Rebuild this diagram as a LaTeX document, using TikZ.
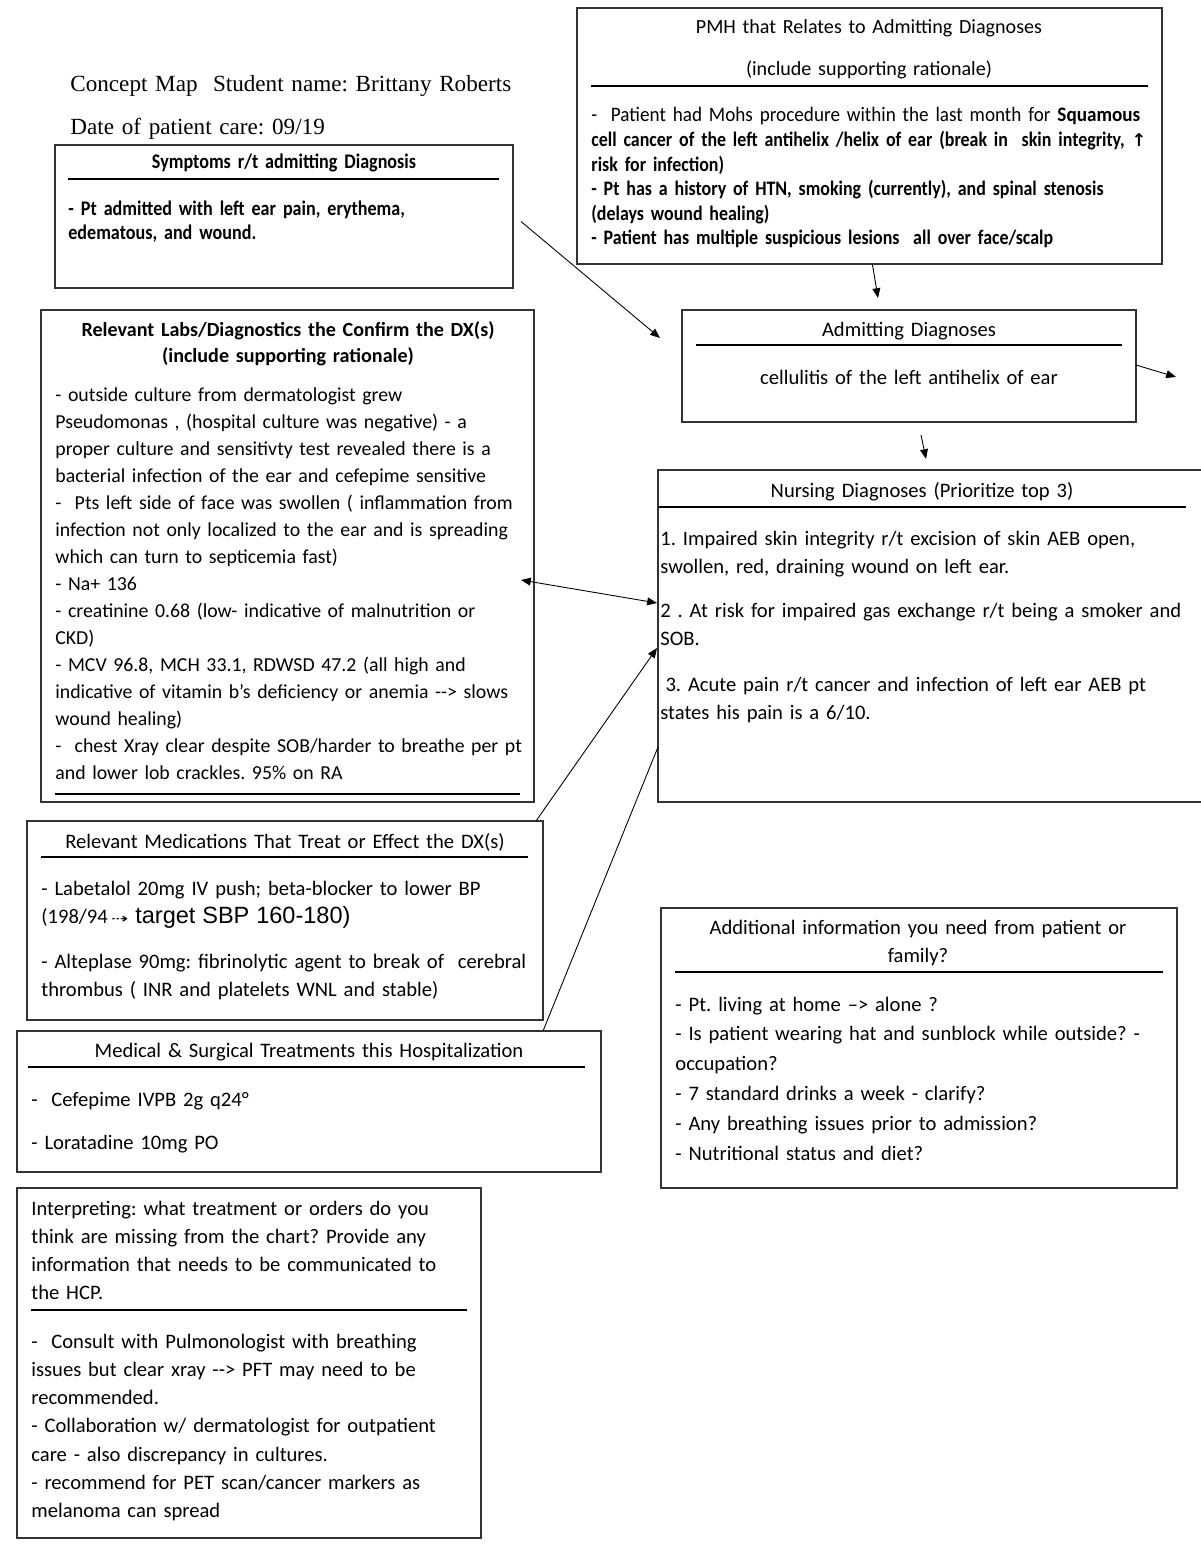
\documentclass[tikz,border=0pt]{standalone}
\usepackage{fontspec}
\setmainfont{Carlito}
\newfontfamily\cndfont{Carlito}[FakeStretch=0.87]
\newfontfamily\midfont{Carlito}[FakeStretch=0.93]
\newfontfamily\serfont{Liberation Serif}
\newfontfamily\arifont{Liberation Sans}
\newfontfamily\symfont{DejaVu Sans}
\usetikzlibrary{arrows.meta}
\pgfmathsetmacro{\px}{0.51}
\tikzset{
  box/.style={draw=black!80, line width=0.6pt, anchor=north west, inner sep=0pt, outer sep=0pt},
  bsize/.style 2 args={minimum width=#1*\px*1pt, minimum height=#2*\px*1pt},
  hrule/.style={line width=1.1pt},
  ttl/.style={anchor=base, inner sep=0pt, align=center, text width=560*\px*1pt},
  txt/.style={anchor=base west, inner sep=0pt, align=left, text width=560*\px*1pt},
  arr/.style={-{Triangle[length=5pt,width=4pt]}, line width=0.45pt},
}
\frenchspacing

\begin{document}
\begin{tikzpicture}[x=\px pt, y=-\px pt]
		\useasboundingbox[fill=white] (0,0) rectangle (1200,1553);
		% header
		\node[txt, font=\serfont\fontsize{11.8}{14}\selectfont] (cmap) at (70,92) {Concept Map\ \ Student name: Brittany Roberts};
		\node[txt, font=\serfont\fontsize{11.8}{14}\selectfont] (date) at (70,135) {Date of patient care: 09/19};
		% boxes
		\node[box, bsize={585}{256}] (pmh) at (577,8) {};
		\node[box, bsize={458}{143}] (sym) at (55,145) {};
		\node[box, bsize={493}{492}] (labs) at (41,310) {};
		\node[box, bsize={454}{112}] (adm) at (682,310) {};
		\node[box, bsize={560}{332}] (nur) at (658,470) {};
		\node[box, bsize={516}{199}] (meds) at (27,821) {};
		\node[box, bsize={584}{141}] (trt) at (17,1031) {};
		\node[box, bsize={516}{280}] (info) at (661,908) {};
		\node[box, bsize={464}{350}] (interp) at (17,1188) {};
		% rules under the titles
		\draw[hrule] (591,86) -- (1148,86);
		\draw[hrule] (68,179) -- (499,179);
		\draw[hrule] (55,794) -- (520,794);
		\draw[hrule] (696,345) -- (1122,345);
		\draw[hrule] (658,507) -- (1186,507);
		\draw[hrule] (41,857) -- (528,857);
		\draw[hrule] (28,1067) -- (585,1067);
		\draw[hrule] (675,972) -- (1163,972);
		\draw[hrule] (31,1310) -- (467,1310);
		% PMH
		\node[ttl, font=\fontsize{10.25}{13}\selectfont] (pmhttl) at (869,34) {PMH that Relates to Admitting Diagnoses};
		\node[ttl, font=\fontsize{10.25}{13}\selectfont] (pmhsub) at (869,76) {(include supporting rationale)};
		\node[txt, font=\cndfont\fontsize{10.5}{12.5}\selectfont] (pmhtxt) at (591,122) {{\midfont -\ \ Patient had Mohs procedure within the last month for \textbf{Squamous}}\\
			\textbf{cell cancer of the left antihelix /helix of ear (break in\ \ skin integrity, {\symfont\fontsize{9}{10}\selectfont ↑}}\\
			\textbf{risk for infection)}\\
			\textbf{- Pt has a history of HTN, smoking (currently), and spinal stenosis}\\
			\textbf{(delays wound healing)}\\
			\textbf{- Patient has multiple suspicious lesions\ \ all over face/scalp}};
		% symptoms
		\node[ttl, font=\cndfont\bfseries\fontsize{10.6}{13}\selectfont] (symttl) at (284,169) {Symptoms r/t admitting Diagnosis};
		\node[txt, font=\cndfont\bfseries\fontsize{10.6}{12.24}\selectfont] (symtxt) at (68,215) {- Pt admitted with left ear pain, erythema,\\ edematous, and wound.};
		% labs
		\node[ttl, font=\bfseries\fontsize{10.25}{13.26}\selectfont] (labsttl) at (288,336) {Relevant Labs/Diagnostics the Confirm the DX(s)\\ (include supporting rationale)};
		\node[txt, font=\fontsize{10.1}{13.77}\selectfont] (labstxt) at (55,401) {- outside culture from dermatologist grew\\
			Pseudomonas , (hospital culture was negative) - a\\
			proper culture and sensitivty test revealed there is a\\
			bacterial infection of the ear and cefepime sensitive\\
			-\ \ Pts left side of face was swollen ( inflammation from\\
			infection not only localized to the ear and is spreading\\
			which can turn to septicemia fast)\\
			- Na+ 136\\
			- creatinine 0.68 (low- indicative of malnutrition or\\
			CKD)\\
			- MCV 96.8, MCH 33.1, RDWSD 47.2 (all high and\\
			indicative of vitamin b's deficiency or anemia -{}-> slows\\
			wound healing)\\
			-\ \ chest Xray clear despite SOB/harder to breathe per pt\\
			and lower lob crackles. 95\% on RA};
		% admitting
		\node[ttl, font=\fontsize{10.5}{13}\selectfont] (admttl) at (909,336) {Admitting Diagnoses};
		\node[ttl, font=\fontsize{10.5}{13}\selectfont] (admtxt) at (909,384) {cellulitis of the left antihelix of ear};
		% nursing
		\node[ttl, font=\fontsize{10.5}{13}\selectfont] (nurttl) at (922,497) {Nursing Diagnoses (Prioritize top 3)};
		\node[txt, font=\fontsize{10.5}{14.28}\selectfont] (nurtxt) at (660,545) {1. Impaired skin integrity r/t excision of skin AEB open,\\
			swollen, red, draining wound on left ear.\\[8.16pt]
			2 . At risk for impaired gas exchange r/t being a smoker and\\
			SOB.\\[9.2pt]
			\hspace*{0.25em}3. Acute pain r/t cancer and infection of left ear AEB pt\\
			states his pain is a 6/10.};
		% medications
		\node[ttl, font=\fontsize{10.5}{13}\selectfont] (medsttl) at (285,848) {Relevant Medications That Treat or Effect the DX(s)};
		\node[txt, font=\fontsize{10.5}{14.28}\selectfont] (medsa) at (41,895) {- Labetalol 20mg IV push; beta-blocker to lower BP\\
			(198/94\,{\symfont\fontsize{7}{8}\selectfont\scalebox{1.5}[1]{⇢}} {\arifont\fontsize{12}{14}\selectfont target SBP 160-180)}};
		\node[txt, font=\fontsize{10.5}{14.28}\selectfont] (medsb) at (41,968) {- Alteplase 90mg: fibrinolytic agent to break of\ \ cerebral\\
			thrombus ( INR and platelets WNL and stable)};
		% treatments
		\node[ttl, font=\fontsize{10.5}{13}\selectfont] (trtttl) at (309,1057) {Medical \& Surgical Treatments this Hospitalization};
		\node[txt, font=\fontsize{10.5}{21.93}\selectfont] (trttxt) at (31,1106) {-\ \ Cefepime IVPB 2g q24°\\ - Loratadine 10mg PO};
		% additional information
		\node[ttl, font=\fontsize{10.5}{14.28}\selectfont] (infottl) at (918,934) {Additional information you need from patient or\\ family?};
		\node[txt, font=\fontsize{10.5}{15.2}\selectfont] (infotxt) at (675,1011) {- Pt. living at home –> alone ?\\
			- Is patient wearing hat and sunblock while outside? -\\
			occupation?\\
			- 7 standard drinks a week - clarify?\\
			- Any breathing issues prior to admission?\\
			- Nutritional status and diet?};
		% interpreting
		\node[txt, font=\fontsize{10.5}{14.28}\selectfont] (interpttl) at (31,1215) {Interpreting: what treatment or orders do you\\
			think are missing from the chart? Provide any\\
			information that needs to be communicated to\\
			the HCP.};
		\node[txt, font=\fontsize{10.5}{14.43}\selectfont] (interptxt) at (31,1348) {-\ \ Consult with Pulmonologist with breathing\\
			issues but clear xray -{}-> PFT may need to be\\
			recommended.\\
			- Collaboration w/ dermatologist for outpatient\\
			care - also discrepancy in cultures.\\
			- recommend for PET scan/cancer markers as\\
			melanoma can spread};
		% connectors
		\coordinate (admout) at (1176,377);
		\draw[arr] ([shift={(8,5)}]sym.east) -- ([shift={(-22,-28)}]adm.west);
		\draw[arr] ([shift={(3,1)}]pmh.south) -- ([shift={(-31,-12)}]adm.north);
		\draw[arr] ([shift={(0,-1)}]adm.east) -- (admout);
		\draw[arr] ([shift={(12,13)}]adm.south) -- ([shift={(-12,-11)}]nur.north);
		\draw[arr, {Triangle[length=5pt,width=4pt]}-{Triangle[length=5pt,width=4pt]}] ([shift={(-13,24)}]labs.east) -- ([shift={(-1,-33)}]nur.west);
		\draw[arr] ([shift={(-7,0)}]meds.north east) -- ([shift={(-1,12)}]nur.west);
		\draw[line width=0.45pt] ([shift={(-58,0)}]trt.north east) -- ([shift={(0,111)}]nur.west);
	\end{tikzpicture}
\end{document}
